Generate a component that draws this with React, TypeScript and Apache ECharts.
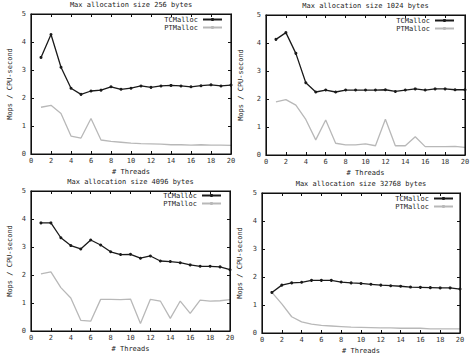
import React, { useEffect, useRef } from "react";
import * as echarts from "echarts";

const threads = [1, 2, 3, 4, 5, 6, 7, 8, 9, 10, 11, 12, 13, 14, 15, 16, 17, 18, 19, 20];
const titles = [
  "Max allocation size 256 bytes",
  "Max allocation size 1024 bytes",
  "Max allocation size 4096 bytes",
  "Max allocation size 32768 bytes",
];
const xTicks = [0, 2, 4, 6, 8, 10, 12, 14, 16, 18, 20];
const yTicks = [0, 1, 2, 3, 4, 5];

const tc256 = [3.45, 4.27, 3.1, 2.35, 2.13, 2.25, 2.28, 2.4, 2.31, 2.35, 2.43, 2.38, 2.43, 2.45, 2.43, 2.4, 2.44, 2.47, 2.43, 2.46];
const pt256 = [1.67, 1.74, 1.45, 0.64, 0.57, 1.27, 0.5, 0.45, 0.42, 0.39, 0.37, 0.36, 0.35, 0.33, 0.33, 0.32, 0.33, 0.32, 0.32, 0.31];
const tc1024 = [4.13, 4.37, 3.63, 2.58, 2.25, 2.32, 2.25, 2.32, 2.32, 2.32, 2.32, 2.33, 2.27, 2.32, 2.36, 2.32, 2.36, 2.36, 2.33, 2.33];
const pt1024 = [1.9, 1.98, 1.78, 1.27, 0.54, 1.25, 0.42, 0.36, 0.36, 0.4, 0.33, 1.28, 0.33, 0.33, 0.65, 0.3, 0.3, 0.3, 0.31, 0.27];
const tc4096 = [3.86, 3.86, 3.33, 3.05, 2.93, 3.25, 3.07, 2.83, 2.73, 2.74, 2.6, 2.68, 2.5, 2.48, 2.44, 2.36, 2.31, 2.31, 2.29, 2.19];
const pt4096 = [2.04, 2.11, 1.55, 1.18, 0.38, 0.35, 1.13, 1.13, 1.12, 1.14, 0.27, 1.13, 1.07, 0.45, 1.07, 0.63, 1.1, 1.07, 1.08, 1.12];
const tc32768 = [1.45, 1.71, 1.79, 1.81, 1.88, 1.88, 1.88, 1.82, 1.79, 1.77, 1.74, 1.71, 1.69, 1.67, 1.64, 1.63, 1.62, 1.61, 1.61, 1.57];
const pt32768 = [1.45, 1.04, 0.58, 0.4, 0.32, 0.27, 0.25, 0.23, 0.21, 0.2, 0.19, 0.18, 0.18, 0.17, 0.17, 0.17, 0.15, 0.15, 0.15, 0.15];

const tcSeries = [tc256, tc1024, tc4096, tc32768];
const ptSeries = [pt256, pt1024, pt4096, pt32768];

const FONT = "DejaVu Sans Mono";

const grids = [
  { left: 31, top: 14, width: 200, height: 140 },
  { left: 266, top: 15, width: 199, height: 140 },
  { left: 31, top: 191, width: 199, height: 140 },
  { left: 262, top: 193, width: 198, height: 140 },
];
const yNameGaps = [18, 22, 18, 19];
const legendPos = [
  { right: 251, top: 16 },
  { right: 19, top: 17 },
  { right: 252, top: 192 },
  { right: 20, top: 195 },
];

export default function App() {
  const ref = useRef<HTMLDivElement>(null);
  useEffect(() => {
    if (!ref.current) return;
    const chart = echarts.init(ref.current, null, { renderer: "svg" });
    const xAxis: any[] = [];
    const yAxis: any[] = [];
    const series: any[] = [];
    const legend: any[] = [];
    grids.forEach((g, i) => {
      const base = {
        type: "value",
        gridIndex: i,
        axisLine: { show: true, onZero: false, lineStyle: { color: "#111", width: 1 } },
        axisTick: { show: true, inside: true, length: 3, lineStyle: { color: "#111" } },
        splitLine: { show: false },
      };
      xAxis.push({
        ...base,
        position: "bottom",
        min: xTicks[0],
        max: xTicks[xTicks.length - 1],
        interval: 2,
        name: "# Threads",
        nameLocation: "middle",
        nameGap: 14,
        nameTextStyle: { fontFamily: FONT, fontSize: 7, color: "#222" },
        axisLabel: { fontFamily: FONT, fontSize: 7, color: "#333", margin: 3 },
      });
      xAxis.push({
        ...base,
        position: "top",
        min: xTicks[0],
        max: xTicks[xTicks.length - 1],
        interval: 2,
        axisLabel: { show: false },
      });
      yAxis.push({
        ...base,
        position: "left",
        min: yTicks[0],
        max: yTicks[yTicks.length - 1],
        interval: 1,
        name: "Mops / CPU-second",
        nameLocation: "middle",
        nameGap: yNameGaps[i],
        nameTextStyle: { fontFamily: FONT, fontSize: 7, color: "#222" },
        axisLabel: { fontFamily: FONT, fontSize: 7, color: "#333", margin: 5 },
      });
      yAxis.push({
        ...base,
        position: "right",
        min: yTicks[0],
        max: yTicks[yTicks.length - 1],
        interval: 1,
        axisLabel: { show: false },
      });
      series.push({
        type: "line",
        name: "TCMalloc",
        xAxisIndex: i * 2,
        yAxisIndex: i * 2,
        data: threads.map((t, k) => [t, tcSeries[i][k]]),
        symbol: "circle",
        symbolSize: 3,
        itemStyle: { color: "#1a1a1a" },
        lineStyle: { color: "#1a1a1a", width: 1.3 },
      });
      series.push({
        type: "line",
        name: "PTMalloc",
        xAxisIndex: i * 2,
        yAxisIndex: i * 2,
        data: threads.map((t, k) => [t, ptSeries[i][k]]),
        symbol: "none",
        itemStyle: { color: "#b8b8b8" },
        lineStyle: { color: "#b8b8b8", width: 1.3 },
      });
      series.push({
        type: "line",
        name: "mirror",
        xAxisIndex: i * 2 + 1,
        yAxisIndex: i * 2 + 1,
        data: threads.map((t, k) => [t, tcSeries[i][k]]),
        symbol: "none",
        silent: true,
        lineStyle: { opacity: 0 },
        itemStyle: { opacity: 0 },
      });
      legend.push({
        ...legendPos[i],
        orient: "vertical",
        align: "right",
        padding: 0,
        itemGap: 1,
        itemWidth: 19,
        itemHeight: 4,
        data: ["TCMalloc", "PTMalloc"],
        textStyle: { fontFamily: FONT, fontSize: 7, color: "#222", padding: [0, 0, 0, 0] },
        selectedMode: false,
      });
    });
    chart.setOption({
      animation: false,
      backgroundColor: "#fff",
      grid: grids.map((g) => ({ ...g, show: false })),
      xAxis,
      yAxis,
      series,
      legend,
      graphic: [
        ...grids.map((g) => ({
          type: "rect",
          shape: { x: g.left, y: g.top, width: g.width, height: g.height },
          style: { fill: "none", stroke: "#111", lineWidth: 1.2 },
          silent: true,
          z: 100,
        })),
        ...grids.map((g, i) => ({
          type: "text",
          x: g.left + g.width / 2,
          y: g.top - 9,
          style: {
            text: titles[i],
            font: `7px '${FONT}'`,
            fill: "#222",
            align: "center",
            verticalAlign: "middle",
          },
        })),
      ],
    });
    return () => chart.dispose();
  }, []);
  return (
    <div
      ref={ref}
      style={{ position: "fixed", left: 0, top: 0, width: 474, height: 358, background: "#fff" }}
    />
  );
}
